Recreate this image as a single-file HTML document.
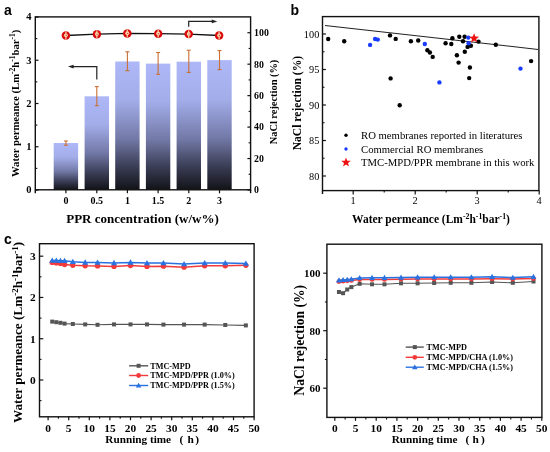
<!DOCTYPE html>
<html><head><meta charset="utf-8"><title>Figure</title>
<style>html,body{margin:0;padding:0;background:#fff;} svg{display:block;will-change:transform;}</style>
</head><body>
<svg width="550" height="452" viewBox="0 0 550 452">
<rect x="0" y="0" width="550" height="452" fill="#fff"/>
<defs><linearGradient id="bg" x1="0" y1="0" x2="0" y2="1"><stop offset="0" stop-color="#aeb8f8"/><stop offset="0.3" stop-color="#a3ade9"/><stop offset="0.6" stop-color="#737aa8"/><stop offset="0.82" stop-color="#3a3d55"/><stop offset="1" stop-color="#121318"/></linearGradient></defs>
<rect x="53.70" y="143.00" width="24.4" height="46.80" fill="url(#bg)"/>
<rect x="84.60" y="96.30" width="24.4" height="93.50" fill="url(#bg)"/>
<rect x="115.20" y="61.50" width="24.4" height="128.30" fill="url(#bg)"/>
<rect x="145.90" y="63.60" width="24.4" height="126.20" fill="url(#bg)"/>
<rect x="176.60" y="61.70" width="24.4" height="128.10" fill="url(#bg)"/>
<rect x="207.30" y="60.10" width="24.4" height="129.70" fill="url(#bg)"/>
<line x1="65.90" y1="141.00" x2="65.90" y2="145.20" stroke="#c87035" stroke-width="1.1" />
<line x1="63.90" y1="141.00" x2="67.90" y2="141.00" stroke="#c87035" stroke-width="1.1" />
<line x1="63.90" y1="145.20" x2="67.90" y2="145.20" stroke="#c87035" stroke-width="1.1" />
<line x1="96.80" y1="86.60" x2="96.80" y2="105.70" stroke="#c87035" stroke-width="1.1" />
<line x1="94.80" y1="86.60" x2="98.80" y2="86.60" stroke="#c87035" stroke-width="1.1" />
<line x1="94.80" y1="105.70" x2="98.80" y2="105.70" stroke="#c87035" stroke-width="1.1" />
<line x1="127.40" y1="51.80" x2="127.40" y2="70.70" stroke="#c87035" stroke-width="1.1" />
<line x1="125.40" y1="51.80" x2="129.40" y2="51.80" stroke="#c87035" stroke-width="1.1" />
<line x1="125.40" y1="70.70" x2="129.40" y2="70.70" stroke="#c87035" stroke-width="1.1" />
<line x1="158.10" y1="52.50" x2="158.10" y2="74.30" stroke="#c87035" stroke-width="1.1" />
<line x1="156.10" y1="52.50" x2="160.10" y2="52.50" stroke="#c87035" stroke-width="1.1" />
<line x1="156.10" y1="74.30" x2="160.10" y2="74.30" stroke="#c87035" stroke-width="1.1" />
<line x1="188.80" y1="50.20" x2="188.80" y2="72.40" stroke="#c87035" stroke-width="1.1" />
<line x1="186.80" y1="50.20" x2="190.80" y2="50.20" stroke="#c87035" stroke-width="1.1" />
<line x1="186.80" y1="72.40" x2="190.80" y2="72.40" stroke="#c87035" stroke-width="1.1" />
<line x1="219.50" y1="50.60" x2="219.50" y2="69.60" stroke="#c87035" stroke-width="1.1" />
<line x1="217.50" y1="50.60" x2="221.50" y2="50.60" stroke="#c87035" stroke-width="1.1" />
<line x1="217.50" y1="69.60" x2="221.50" y2="69.60" stroke="#c87035" stroke-width="1.1" />
<polyline points="65.9,35.5 96.9,34.2 127.3,33.4 158.2,33.7 188.7,34.1 219.1,35.5" fill="none" stroke="#111" stroke-width="1.3"/>
<circle cx="65.9" cy="35.5" r="4.25" fill="#d8080c"/>
<line x1="65.90" y1="31.60" x2="65.90" y2="39.40" stroke="#f2c89a" stroke-width="1.3" />
<ellipse cx="65.9" cy="35.3" rx="2.0" ry="1.9" fill="#f4d4a8"/>
<circle cx="66.2" cy="35.5" r="0.7" fill="#e45050"/>
<circle cx="96.9" cy="34.2" r="4.25" fill="#d8080c"/>
<line x1="96.90" y1="30.30" x2="96.90" y2="38.10" stroke="#f2c89a" stroke-width="1.3" />
<ellipse cx="96.9" cy="34.0" rx="2.0" ry="1.9" fill="#f4d4a8"/>
<circle cx="97.2" cy="34.2" r="0.7" fill="#e45050"/>
<circle cx="127.3" cy="33.4" r="4.25" fill="#d8080c"/>
<line x1="127.30" y1="29.50" x2="127.30" y2="37.30" stroke="#f2c89a" stroke-width="1.3" />
<ellipse cx="127.3" cy="33.199999999999996" rx="2.0" ry="1.9" fill="#f4d4a8"/>
<circle cx="127.6" cy="33.4" r="0.7" fill="#e45050"/>
<circle cx="158.2" cy="33.7" r="4.25" fill="#d8080c"/>
<line x1="158.20" y1="29.80" x2="158.20" y2="37.60" stroke="#f2c89a" stroke-width="1.3" />
<ellipse cx="158.2" cy="33.5" rx="2.0" ry="1.9" fill="#f4d4a8"/>
<circle cx="158.5" cy="33.7" r="0.7" fill="#e45050"/>
<circle cx="188.7" cy="34.1" r="4.25" fill="#d8080c"/>
<line x1="188.70" y1="30.20" x2="188.70" y2="38.00" stroke="#f2c89a" stroke-width="1.3" />
<ellipse cx="188.7" cy="33.9" rx="2.0" ry="1.9" fill="#f4d4a8"/>
<circle cx="189.0" cy="34.1" r="0.7" fill="#e45050"/>
<circle cx="219.1" cy="35.5" r="4.25" fill="#d8080c"/>
<line x1="219.10" y1="31.60" x2="219.10" y2="39.40" stroke="#f2c89a" stroke-width="1.3" />
<ellipse cx="219.1" cy="35.3" rx="2.0" ry="1.9" fill="#f4d4a8"/>
<circle cx="219.4" cy="35.5" r="0.7" fill="#e45050"/>
<polyline points="96.8,79.4 96.8,66.6 72.5,66.6" fill="none" stroke="#222" stroke-width="1.2"/>
<polygon points="68,66.6 73.6,64.8 73.6,68.4" fill="#222"/>
<polyline points="188.7,26.8 188.7,21.4 212.5,21.4" fill="none" stroke="#222" stroke-width="1.2"/>
<polygon points="217.3,21.4 211.7,19.6 211.7,23.2" fill="#222"/>
<rect x="35.3" y="16.9" width="215.30" height="172.90" fill="none" stroke="#111" stroke-width="1.4"/>
<line x1="35.30" y1="189.80" x2="35.30" y2="193.20" stroke="#111" stroke-width="1.4" />
<line x1="250.60" y1="189.80" x2="250.60" y2="193.20" stroke="#111" stroke-width="1.4" />
<line x1="35.30" y1="190.00" x2="38.50" y2="190.00" stroke="#111" stroke-width="1.2" />
<line x1="35.30" y1="146.75" x2="38.50" y2="146.75" stroke="#111" stroke-width="1.2" />
<line x1="35.30" y1="103.50" x2="38.50" y2="103.50" stroke="#111" stroke-width="1.2" />
<line x1="35.30" y1="60.25" x2="38.50" y2="60.25" stroke="#111" stroke-width="1.2" />
<line x1="35.30" y1="17.00" x2="38.50" y2="17.00" stroke="#111" stroke-width="1.2" />
<line x1="35.30" y1="168.38" x2="37.30" y2="168.38" stroke="#111" stroke-width="1.1" />
<line x1="35.30" y1="125.12" x2="37.30" y2="125.12" stroke="#111" stroke-width="1.1" />
<line x1="35.30" y1="81.88" x2="37.30" y2="81.88" stroke="#111" stroke-width="1.1" />
<line x1="35.30" y1="38.62" x2="37.30" y2="38.62" stroke="#111" stroke-width="1.1" />
<text x="31.40" y="193.30" font-family='"Liberation Serif", serif' font-size="10.5" font-weight="bold" text-anchor="end" fill="#000" >0</text>
<text x="31.40" y="150.05" font-family='"Liberation Serif", serif' font-size="10.5" font-weight="bold" text-anchor="end" fill="#000" >1</text>
<text x="31.40" y="106.80" font-family='"Liberation Serif", serif' font-size="10.5" font-weight="bold" text-anchor="end" fill="#000" >2</text>
<text x="31.40" y="63.55" font-family='"Liberation Serif", serif' font-size="10.5" font-weight="bold" text-anchor="end" fill="#000" >3</text>
<text x="31.40" y="20.30" font-family='"Liberation Serif", serif' font-size="10.5" font-weight="bold" text-anchor="end" fill="#000" >4</text>
<line x1="250.60" y1="190.00" x2="247.40" y2="190.00" stroke="#111" stroke-width="1.2" />
<line x1="250.60" y1="158.55" x2="247.40" y2="158.55" stroke="#111" stroke-width="1.2" />
<line x1="250.60" y1="127.09" x2="247.40" y2="127.09" stroke="#111" stroke-width="1.2" />
<line x1="250.60" y1="95.64" x2="247.40" y2="95.64" stroke="#111" stroke-width="1.2" />
<line x1="250.60" y1="64.18" x2="247.40" y2="64.18" stroke="#111" stroke-width="1.2" />
<line x1="250.60" y1="32.73" x2="247.40" y2="32.73" stroke="#111" stroke-width="1.2" />
<line x1="250.60" y1="174.27" x2="248.60" y2="174.27" stroke="#111" stroke-width="1.1" />
<line x1="250.60" y1="142.82" x2="248.60" y2="142.82" stroke="#111" stroke-width="1.1" />
<line x1="250.60" y1="111.36" x2="248.60" y2="111.36" stroke="#111" stroke-width="1.1" />
<line x1="250.60" y1="79.91" x2="248.60" y2="79.91" stroke="#111" stroke-width="1.1" />
<line x1="250.60" y1="48.46" x2="248.60" y2="48.46" stroke="#111" stroke-width="1.1" />
<text x="254.10" y="193.40" font-family='"Liberation Serif", serif' font-size="9.8" font-weight="bold" text-anchor="start" fill="#000" >0</text>
<text x="254.10" y="161.95" font-family='"Liberation Serif", serif' font-size="9.8" font-weight="bold" text-anchor="start" fill="#000" >20</text>
<text x="254.10" y="130.49" font-family='"Liberation Serif", serif' font-size="9.8" font-weight="bold" text-anchor="start" fill="#000" >40</text>
<text x="254.10" y="99.04" font-family='"Liberation Serif", serif' font-size="9.8" font-weight="bold" text-anchor="start" fill="#000" >60</text>
<text x="254.10" y="67.58" font-family='"Liberation Serif", serif' font-size="9.8" font-weight="bold" text-anchor="start" fill="#000" >80</text>
<text x="254.10" y="36.13" font-family='"Liberation Serif", serif' font-size="9.8" font-weight="bold" text-anchor="start" fill="#000" >100</text>
<line x1="65.90" y1="189.80" x2="65.90" y2="193.30" stroke="#111" stroke-width="1.2" />
<text x="65.90" y="203.60" font-family='"Liberation Serif", serif' font-size="10" font-weight="bold" text-anchor="middle" fill="#000" >0</text>
<line x1="96.80" y1="189.80" x2="96.80" y2="193.30" stroke="#111" stroke-width="1.2" />
<text x="96.80" y="203.60" font-family='"Liberation Serif", serif' font-size="10" font-weight="bold" text-anchor="middle" fill="#000" >0.5</text>
<line x1="127.40" y1="189.80" x2="127.40" y2="193.30" stroke="#111" stroke-width="1.2" />
<text x="127.40" y="203.60" font-family='"Liberation Serif", serif' font-size="10" font-weight="bold" text-anchor="middle" fill="#000" >1</text>
<line x1="158.10" y1="189.80" x2="158.10" y2="193.30" stroke="#111" stroke-width="1.2" />
<text x="158.10" y="203.60" font-family='"Liberation Serif", serif' font-size="10" font-weight="bold" text-anchor="middle" fill="#000" >1.5</text>
<line x1="188.80" y1="189.80" x2="188.80" y2="193.30" stroke="#111" stroke-width="1.2" />
<text x="188.80" y="203.60" font-family='"Liberation Serif", serif' font-size="10" font-weight="bold" text-anchor="middle" fill="#000" >2</text>
<line x1="219.50" y1="189.80" x2="219.50" y2="193.30" stroke="#111" stroke-width="1.2" />
<text x="219.50" y="203.60" font-family='"Liberation Serif", serif' font-size="10" font-weight="bold" text-anchor="middle" fill="#000" >3</text>
<text x="66.2" y="222.6" font-family='"Liberation Serif", serif' font-size="12.3" font-weight="bold" textLength="152.6" lengthAdjust="spacingAndGlyphs">PPR concentration (w/w%)</text>
<text transform="translate(18.6,103.3) rotate(-90)" font-family='"Liberation Serif", serif' font-size="10.7" font-weight="bold" text-anchor="middle">Water permeance (Lm<tspan dy="-3.5" font-size="7.5">-2</tspan><tspan dy="3.5">h</tspan><tspan dy="-3.5" font-size="7.5">-1</tspan><tspan dy="3.5">bar</tspan><tspan dy="-3.5" font-size="7.5">-1</tspan><tspan dy="3.5">)</tspan></text>
<text transform="translate(276.6,102.0) rotate(-90)" font-family='"Liberation Serif", serif' font-size="10.4" font-weight="bold" text-anchor="middle">NaCl rejection (%)</text>
<text x="3.90" y="14.70" font-family='"Liberation Sans", sans-serif' font-size="14" font-weight="bold" text-anchor="start" fill="#000" >a</text>
<rect x="322.5" y="16.6" width="216.40" height="174.00" fill="none" stroke="#111" stroke-width="1.4"/>
<line x1="322.50" y1="176.00" x2="325.90" y2="176.00" stroke="#111" stroke-width="1.2" />
<text x="319.30" y="179.60" font-family='"Liberation Serif", serif' font-size="10.3" font-weight="normal" text-anchor="end" fill="#000" >80</text>
<line x1="322.50" y1="140.50" x2="325.90" y2="140.50" stroke="#111" stroke-width="1.2" />
<text x="319.30" y="144.10" font-family='"Liberation Serif", serif' font-size="10.3" font-weight="normal" text-anchor="end" fill="#000" >85</text>
<line x1="322.50" y1="105.00" x2="325.90" y2="105.00" stroke="#111" stroke-width="1.2" />
<text x="319.30" y="108.60" font-family='"Liberation Serif", serif' font-size="10.3" font-weight="normal" text-anchor="end" fill="#000" >90</text>
<line x1="322.50" y1="69.50" x2="325.90" y2="69.50" stroke="#111" stroke-width="1.2" />
<text x="319.30" y="73.10" font-family='"Liberation Serif", serif' font-size="10.3" font-weight="normal" text-anchor="end" fill="#000" >95</text>
<line x1="322.50" y1="34.00" x2="325.90" y2="34.00" stroke="#111" stroke-width="1.2" />
<text x="319.30" y="37.60" font-family='"Liberation Serif", serif' font-size="10.3" font-weight="normal" text-anchor="end" fill="#000" >100</text>
<line x1="322.50" y1="158.25" x2="324.50" y2="158.25" stroke="#111" stroke-width="1.1" />
<line x1="322.50" y1="122.75" x2="324.50" y2="122.75" stroke="#111" stroke-width="1.1" />
<line x1="322.50" y1="87.25" x2="324.50" y2="87.25" stroke="#111" stroke-width="1.1" />
<line x1="322.50" y1="51.75" x2="324.50" y2="51.75" stroke="#111" stroke-width="1.1" />
<line x1="353.20" y1="190.60" x2="353.20" y2="194.40" stroke="#111" stroke-width="1.2" />
<text x="353.20" y="204.00" font-family='"Liberation Serif", serif' font-size="10.3" font-weight="normal" text-anchor="middle" fill="#000" >1</text>
<line x1="415.20" y1="190.60" x2="415.20" y2="194.40" stroke="#111" stroke-width="1.2" />
<text x="415.20" y="204.00" font-family='"Liberation Serif", serif' font-size="10.3" font-weight="normal" text-anchor="middle" fill="#000" >2</text>
<line x1="477.20" y1="190.60" x2="477.20" y2="194.40" stroke="#111" stroke-width="1.2" />
<text x="477.20" y="204.00" font-family='"Liberation Serif", serif' font-size="10.3" font-weight="normal" text-anchor="middle" fill="#000" >3</text>
<line x1="539.20" y1="190.60" x2="539.20" y2="194.40" stroke="#111" stroke-width="1.2" />
<text x="539.20" y="204.00" font-family='"Liberation Serif", serif' font-size="10.3" font-weight="normal" text-anchor="middle" fill="#000" >4</text>
<line x1="384.20" y1="190.60" x2="384.20" y2="192.60" stroke="#111" stroke-width="1.1" />
<line x1="446.20" y1="190.60" x2="446.20" y2="192.60" stroke="#111" stroke-width="1.1" />
<line x1="508.20" y1="190.60" x2="508.20" y2="192.60" stroke="#111" stroke-width="1.1" />
<line x1="322.50" y1="190.60" x2="322.50" y2="194.00" stroke="#111" stroke-width="1.4" />
<line x1="325.00" y1="25.40" x2="538.20" y2="49.50" stroke="#222" stroke-width="1.05" />
<circle cx="328.2" cy="39.0" r="2.2" fill="#000"/>
<circle cx="344.2" cy="41.2" r="2.2" fill="#000"/>
<circle cx="390.0" cy="35.4" r="2.2" fill="#000"/>
<circle cx="395.7" cy="38.9" r="2.2" fill="#000"/>
<circle cx="410.9" cy="41.2" r="2.2" fill="#000"/>
<circle cx="418.2" cy="40.5" r="2.2" fill="#000"/>
<circle cx="427.4" cy="50.2" r="2.2" fill="#000"/>
<circle cx="429.9" cy="52.5" r="2.2" fill="#000"/>
<circle cx="432.7" cy="56.9" r="2.2" fill="#000"/>
<circle cx="390.6" cy="78.4" r="2.2" fill="#000"/>
<circle cx="399.7" cy="105.2" r="2.2" fill="#000"/>
<circle cx="445.6" cy="43.3" r="2.2" fill="#000"/>
<circle cx="451.3" cy="44.0" r="2.2" fill="#000"/>
<circle cx="452.4" cy="38.3" r="2.2" fill="#000"/>
<circle cx="459.3" cy="36.7" r="2.2" fill="#000"/>
<circle cx="464.6" cy="36.7" r="2.2" fill="#000"/>
<circle cx="463.0" cy="41.2" r="2.2" fill="#000"/>
<circle cx="467.6" cy="46.9" r="2.2" fill="#000"/>
<circle cx="470.9" cy="45.8" r="2.2" fill="#000"/>
<circle cx="478.5" cy="41.6" r="2.2" fill="#000"/>
<circle cx="495.8" cy="44.7" r="2.2" fill="#000"/>
<circle cx="464.8" cy="51.8" r="2.2" fill="#000"/>
<circle cx="456.9" cy="55.3" r="2.2" fill="#000"/>
<circle cx="458.6" cy="62.6" r="2.2" fill="#000"/>
<circle cx="469.9" cy="67.5" r="2.2" fill="#000"/>
<circle cx="469.2" cy="78.1" r="2.2" fill="#000"/>
<circle cx="531.1" cy="61.1" r="2.2" fill="#000"/>
<circle cx="370.1" cy="44.9" r="2.2" fill="#1a3cff"/>
<circle cx="375.1" cy="39.0" r="2.2" fill="#1a3cff"/>
<circle cx="377.8" cy="39.6" r="2.2" fill="#1a3cff"/>
<circle cx="424.8" cy="44.0" r="2.2" fill="#1a3cff"/>
<circle cx="439.4" cy="82.4" r="2.2" fill="#1a3cff"/>
<circle cx="468.3" cy="37.6" r="2.2" fill="#1a3cff"/>
<circle cx="468.6" cy="43.2" r="2.2" fill="#1a3cff"/>
<circle cx="520.5" cy="68.6" r="2.2" fill="#1a3cff"/>
<polygon points="474.10,33.20 475.39,36.62 479.05,36.79 476.19,39.08 477.16,42.61 474.10,40.60 471.04,42.61 472.01,39.08 469.15,36.79 472.81,36.62" fill="#f01010"/>
<circle cx="346" cy="135.2" r="1.7" fill="#000"/>
<circle cx="346" cy="149" r="1.7" fill="#1a3cff"/>
<polygon points="346.00,157.40 347.23,160.70 350.76,160.85 348.00,163.05 348.94,166.45 346.00,164.50 343.06,166.45 344.00,163.05 341.24,160.85 344.77,160.70" fill="#f01010"/>
<text x="361.00" y="139.40" font-family='"Liberation Serif", serif' font-size="10.7" font-weight="normal" text-anchor="start" fill="#000" >RO membranes reported in literatures</text>
<text x="361.00" y="152.80" font-family='"Liberation Serif", serif' font-size="10.7" font-weight="normal" text-anchor="start" fill="#000" >Commercial RO membranes</text>
<text x="361.00" y="166.20" font-family='"Liberation Serif", serif' font-size="10.7" font-weight="normal" text-anchor="start" fill="#000" >TMC-MPD/PPR membrane in this work</text>
<text transform="translate(301.4,103.1) rotate(-90)" font-family='"Liberation Serif", serif' font-size="11.6" font-weight="bold" text-anchor="middle">NaCl rejection (%)</text>
<text x="431" y="222.5" font-family='"Liberation Serif", serif' font-size="11.5" font-weight="bold" text-anchor="middle">Water permeance (Lm<tspan dy="-3.5" font-size="7.8">-2</tspan><tspan dy="3.5">h</tspan><tspan dy="-3.5" font-size="7.8">-1</tspan><tspan dy="3.5">bar</tspan><tspan dy="-3.5" font-size="7.8">-1</tspan><tspan dy="3.5">)</tspan></text>
<text x="290.60" y="14.70" font-family='"Liberation Sans", sans-serif' font-size="14" font-weight="bold" text-anchor="start" fill="#000" >b</text>
<rect x="39.5" y="243.7" width="214.60" height="173.10" fill="none" stroke="#111" stroke-width="1.4"/>
<line x1="39.50" y1="380.00" x2="43.30" y2="380.00" stroke="#111" stroke-width="1.2" />
<text x="35.80" y="384.00" font-family='"Liberation Serif", serif' font-size="11.4" font-weight="bold" text-anchor="end" fill="#000" >0</text>
<line x1="39.50" y1="338.73" x2="43.30" y2="338.73" stroke="#111" stroke-width="1.2" />
<text x="35.80" y="342.73" font-family='"Liberation Serif", serif' font-size="11.4" font-weight="bold" text-anchor="end" fill="#000" >1</text>
<line x1="39.50" y1="297.46" x2="43.30" y2="297.46" stroke="#111" stroke-width="1.2" />
<text x="35.80" y="301.46" font-family='"Liberation Serif", serif' font-size="11.4" font-weight="bold" text-anchor="end" fill="#000" >2</text>
<line x1="39.50" y1="256.19" x2="43.30" y2="256.19" stroke="#111" stroke-width="1.2" />
<text x="35.80" y="260.19" font-family='"Liberation Serif", serif' font-size="11.4" font-weight="bold" text-anchor="end" fill="#000" >3</text>
<line x1="39.50" y1="400.63" x2="41.50" y2="400.63" stroke="#111" stroke-width="1.1" />
<line x1="39.50" y1="359.37" x2="41.50" y2="359.37" stroke="#111" stroke-width="1.1" />
<line x1="39.50" y1="318.10" x2="41.50" y2="318.10" stroke="#111" stroke-width="1.1" />
<line x1="39.50" y1="276.82" x2="41.50" y2="276.82" stroke="#111" stroke-width="1.1" />
<line x1="48.10" y1="416.80" x2="48.10" y2="420.20" stroke="#111" stroke-width="1.2" />
<text x="48.10" y="432.10" font-family='"Liberation Serif", serif' font-size="11.4" font-weight="bold" text-anchor="middle" fill="#000" >0</text>
<line x1="68.70" y1="416.80" x2="68.70" y2="420.20" stroke="#111" stroke-width="1.2" />
<text x="68.70" y="432.10" font-family='"Liberation Serif", serif' font-size="11.4" font-weight="bold" text-anchor="middle" fill="#000" >5</text>
<line x1="89.30" y1="416.80" x2="89.30" y2="420.20" stroke="#111" stroke-width="1.2" />
<text x="89.30" y="432.10" font-family='"Liberation Serif", serif' font-size="11.4" font-weight="bold" text-anchor="middle" fill="#000" >10</text>
<line x1="109.90" y1="416.80" x2="109.90" y2="420.20" stroke="#111" stroke-width="1.2" />
<text x="109.90" y="432.10" font-family='"Liberation Serif", serif' font-size="11.4" font-weight="bold" text-anchor="middle" fill="#000" >15</text>
<line x1="130.50" y1="416.80" x2="130.50" y2="420.20" stroke="#111" stroke-width="1.2" />
<text x="130.50" y="432.10" font-family='"Liberation Serif", serif' font-size="11.4" font-weight="bold" text-anchor="middle" fill="#000" >20</text>
<line x1="151.10" y1="416.80" x2="151.10" y2="420.20" stroke="#111" stroke-width="1.2" />
<text x="151.10" y="432.10" font-family='"Liberation Serif", serif' font-size="11.4" font-weight="bold" text-anchor="middle" fill="#000" >25</text>
<line x1="171.70" y1="416.80" x2="171.70" y2="420.20" stroke="#111" stroke-width="1.2" />
<text x="171.70" y="432.10" font-family='"Liberation Serif", serif' font-size="11.4" font-weight="bold" text-anchor="middle" fill="#000" >30</text>
<line x1="192.30" y1="416.80" x2="192.30" y2="420.20" stroke="#111" stroke-width="1.2" />
<text x="192.30" y="432.10" font-family='"Liberation Serif", serif' font-size="11.4" font-weight="bold" text-anchor="middle" fill="#000" >35</text>
<line x1="212.90" y1="416.80" x2="212.90" y2="420.20" stroke="#111" stroke-width="1.2" />
<text x="212.90" y="432.10" font-family='"Liberation Serif", serif' font-size="11.4" font-weight="bold" text-anchor="middle" fill="#000" >40</text>
<line x1="233.50" y1="416.80" x2="233.50" y2="420.20" stroke="#111" stroke-width="1.2" />
<text x="233.50" y="432.10" font-family='"Liberation Serif", serif' font-size="11.4" font-weight="bold" text-anchor="middle" fill="#000" >45</text>
<line x1="254.10" y1="416.80" x2="254.10" y2="420.20" stroke="#111" stroke-width="1.2" />
<text x="254.10" y="432.10" font-family='"Liberation Serif", serif' font-size="11.4" font-weight="bold" text-anchor="middle" fill="#000" >50</text>
<line x1="58.40" y1="416.80" x2="58.40" y2="418.80" stroke="#111" stroke-width="1.1" />
<line x1="79.00" y1="416.80" x2="79.00" y2="418.80" stroke="#111" stroke-width="1.1" />
<line x1="99.60" y1="416.80" x2="99.60" y2="418.80" stroke="#111" stroke-width="1.1" />
<line x1="120.20" y1="416.80" x2="120.20" y2="418.80" stroke="#111" stroke-width="1.1" />
<line x1="140.80" y1="416.80" x2="140.80" y2="418.80" stroke="#111" stroke-width="1.1" />
<line x1="161.40" y1="416.80" x2="161.40" y2="418.80" stroke="#111" stroke-width="1.1" />
<line x1="182.00" y1="416.80" x2="182.00" y2="418.80" stroke="#111" stroke-width="1.1" />
<line x1="202.60" y1="416.80" x2="202.60" y2="418.80" stroke="#111" stroke-width="1.1" />
<line x1="223.20" y1="416.80" x2="223.20" y2="418.80" stroke="#111" stroke-width="1.1" />
<line x1="243.80" y1="416.80" x2="243.80" y2="418.80" stroke="#111" stroke-width="1.1" />
<polyline points="52.22,321.60 56.34,322.20 60.46,322.80 64.58,323.60 72.82,324.00 85.18,324.40 97.54,324.80 114.02,324.40 130.50,324.40 146.98,324.40 163.46,324.60 184.06,324.60 204.66,324.60 225.26,325.00 245.86,325.40" fill="none" stroke="#555" stroke-width="1.1"/>
<rect x="50.22" y="319.60" width="4.0" height="4.0" fill="#555"/>
<rect x="54.34" y="320.20" width="4.0" height="4.0" fill="#555"/>
<rect x="58.46" y="320.80" width="4.0" height="4.0" fill="#555"/>
<rect x="62.58" y="321.60" width="4.0" height="4.0" fill="#555"/>
<rect x="70.82" y="322.00" width="4.0" height="4.0" fill="#555"/>
<rect x="83.18" y="322.40" width="4.0" height="4.0" fill="#555"/>
<rect x="95.54" y="322.80" width="4.0" height="4.0" fill="#555"/>
<rect x="112.02" y="322.40" width="4.0" height="4.0" fill="#555"/>
<rect x="128.50" y="322.40" width="4.0" height="4.0" fill="#555"/>
<rect x="144.98" y="322.40" width="4.0" height="4.0" fill="#555"/>
<rect x="161.46" y="322.60" width="4.0" height="4.0" fill="#555"/>
<rect x="182.06" y="322.60" width="4.0" height="4.0" fill="#555"/>
<rect x="202.66" y="322.60" width="4.0" height="4.0" fill="#555"/>
<rect x="223.26" y="323.00" width="4.0" height="4.0" fill="#555"/>
<rect x="243.86" y="323.40" width="4.0" height="4.0" fill="#555"/>
<polyline points="52.22,262.50 56.34,263.00 60.46,263.50 64.58,264.60 72.82,265.30 85.18,265.80 97.54,266.00 114.02,266.40 130.50,265.60 146.98,266.40 163.46,266.20 184.06,267.20 204.66,265.80 225.26,265.80 245.86,265.30" fill="none" stroke="#f23a3a" stroke-width="1.5"/>
<circle cx="52.22" cy="262.50" r="2.6" fill="#f23a3a"/>
<circle cx="56.34" cy="263.00" r="2.6" fill="#f23a3a"/>
<circle cx="60.46" cy="263.50" r="2.6" fill="#f23a3a"/>
<circle cx="64.58" cy="264.60" r="2.6" fill="#f23a3a"/>
<circle cx="72.82" cy="265.30" r="2.6" fill="#f23a3a"/>
<circle cx="85.18" cy="265.80" r="2.6" fill="#f23a3a"/>
<circle cx="97.54" cy="266.00" r="2.6" fill="#f23a3a"/>
<circle cx="114.02" cy="266.40" r="2.6" fill="#f23a3a"/>
<circle cx="130.50" cy="265.60" r="2.6" fill="#f23a3a"/>
<circle cx="146.98" cy="266.40" r="2.6" fill="#f23a3a"/>
<circle cx="163.46" cy="266.20" r="2.6" fill="#f23a3a"/>
<circle cx="184.06" cy="267.20" r="2.6" fill="#f23a3a"/>
<circle cx="204.66" cy="265.80" r="2.6" fill="#f23a3a"/>
<circle cx="225.26" cy="265.80" r="2.6" fill="#f23a3a"/>
<circle cx="245.86" cy="265.30" r="2.6" fill="#f23a3a"/>
<polyline points="52.22,260.60 56.34,260.60 60.46,260.70 64.58,260.80 72.82,261.70 85.18,262.40 97.54,262.60 114.02,262.90 130.50,262.40 146.98,263.00 163.46,263.00 184.06,264.00 204.66,263.00 225.26,263.00 245.86,263.60" fill="none" stroke="#2a72e0" stroke-width="1.5"/>
<polygon points="52.22,257.55 55.27,262.85 49.17,262.85" fill="#2a72e0"/>
<polygon points="56.34,257.55 59.39,262.85 53.29,262.85" fill="#2a72e0"/>
<polygon points="60.46,257.65 63.51,262.95 57.41,262.95" fill="#2a72e0"/>
<polygon points="64.58,257.75 67.63,263.05 61.53,263.05" fill="#2a72e0"/>
<polygon points="72.82,258.65 75.87,263.95 69.77,263.95" fill="#2a72e0"/>
<polygon points="85.18,259.35 88.23,264.65 82.13,264.65" fill="#2a72e0"/>
<polygon points="97.54,259.55 100.59,264.85 94.49,264.85" fill="#2a72e0"/>
<polygon points="114.02,259.85 117.07,265.15 110.97,265.15" fill="#2a72e0"/>
<polygon points="130.50,259.35 133.55,264.65 127.45,264.65" fill="#2a72e0"/>
<polygon points="146.98,259.95 150.03,265.25 143.93,265.25" fill="#2a72e0"/>
<polygon points="163.46,259.95 166.51,265.25 160.41,265.25" fill="#2a72e0"/>
<polygon points="184.06,260.95 187.11,266.25 181.01,266.25" fill="#2a72e0"/>
<polygon points="204.66,259.95 207.71,265.25 201.61,265.25" fill="#2a72e0"/>
<polygon points="225.26,259.95 228.31,265.25 222.21,265.25" fill="#2a72e0"/>
<polygon points="245.86,260.55 248.91,265.85 242.81,265.85" fill="#2a72e0"/>
<line x1="129.10" y1="365.80" x2="148.20" y2="365.80" stroke="#555" stroke-width="1.4" />
<rect x="136.60" y="363.80" width="4" height="4" fill="#555"/>
<line x1="129.10" y1="375.50" x2="148.20" y2="375.50" stroke="#f23a3a" stroke-width="1.4" />
<circle cx="138.6" cy="375.5" r="2.4" fill="#f23a3a"/>
<line x1="129.10" y1="385.50" x2="148.20" y2="385.50" stroke="#2a72e0" stroke-width="1.4" />
<polygon points="138.6,382.70 141.4,387.50 135.8,387.50" fill="#2a72e0"/>
<text x="150.20" y="368.60" font-family='"Liberation Serif", serif' font-size="8.2" font-weight="bold" text-anchor="start" fill="#000" >TMC-MPD</text>
<text x="150.20" y="378.40" font-family='"Liberation Serif", serif' font-size="8.2" font-weight="bold" text-anchor="start" fill="#000" >TMC-MPD/PPR (1.0%)</text>
<text x="150.20" y="388.40" font-family='"Liberation Serif", serif' font-size="8.2" font-weight="bold" text-anchor="start" fill="#000" >TMC-MPD/PPR (1.5%)</text>
<text transform="translate(22.0,332.4) rotate(-90)" font-family='"Liberation Serif", serif' font-size="13.2" font-weight="bold" text-anchor="middle">Water permeance (Lm<tspan dy="-4.5" font-size="9">-2</tspan><tspan dy="4.5">h</tspan><tspan dy="-4.5" font-size="9">-1</tspan><tspan dy="4.5">bar</tspan><tspan dy="-4.5" font-size="9">-1</tspan><tspan dy="4.5">)</tspan></text>
<text x="105.3" y="443.2" font-family='"Liberation Serif", serif' font-size="11.4" font-weight="bold" textLength="65.8" lengthAdjust="spacingAndGlyphs">Running time</text>
<text x="179.6" y="443.2" font-family='"Liberation Serif", serif' font-size="11.4" font-weight="bold">(</text>
<text x="187.6" y="443.2" font-family='"Liberation Serif", serif' font-size="11.4" font-weight="bold">h</text>
<text x="195.2" y="443.2" font-family='"Liberation Serif", serif' font-size="11.4" font-weight="bold">)</text>
<text x="3.90" y="244.40" font-family='"Liberation Sans", sans-serif' font-size="14" font-weight="bold" text-anchor="start" fill="#000" >c</text>
<rect x="326.9" y="244.2" width="215.00" height="173.20" fill="none" stroke="#111" stroke-width="1.4"/>
<line x1="326.90" y1="388.20" x2="323.20" y2="388.20" stroke="#111" stroke-width="1.2" />
<text x="320.40" y="392.10" font-family='"Liberation Serif", serif' font-size="11.0" font-weight="bold" text-anchor="end" fill="#000" >60</text>
<line x1="326.90" y1="330.70" x2="323.20" y2="330.70" stroke="#111" stroke-width="1.2" />
<text x="320.40" y="334.60" font-family='"Liberation Serif", serif' font-size="11.0" font-weight="bold" text-anchor="end" fill="#000" >80</text>
<line x1="326.90" y1="273.20" x2="323.20" y2="273.20" stroke="#111" stroke-width="1.2" />
<text x="320.40" y="277.10" font-family='"Liberation Serif", serif' font-size="11.0" font-weight="bold" text-anchor="end" fill="#000" >100</text>
<line x1="326.90" y1="359.45" x2="324.90" y2="359.45" stroke="#111" stroke-width="1.1" />
<line x1="326.90" y1="301.95" x2="324.90" y2="301.95" stroke="#111" stroke-width="1.1" />
<line x1="334.80" y1="417.40" x2="334.80" y2="420.80" stroke="#111" stroke-width="1.2" />
<text x="334.80" y="432.10" font-family='"Liberation Serif", serif' font-size="11.4" font-weight="bold" text-anchor="middle" fill="#000" >0</text>
<line x1="355.50" y1="417.40" x2="355.50" y2="420.80" stroke="#111" stroke-width="1.2" />
<text x="355.50" y="432.10" font-family='"Liberation Serif", serif' font-size="11.4" font-weight="bold" text-anchor="middle" fill="#000" >5</text>
<line x1="376.20" y1="417.40" x2="376.20" y2="420.80" stroke="#111" stroke-width="1.2" />
<text x="376.20" y="432.10" font-family='"Liberation Serif", serif' font-size="11.4" font-weight="bold" text-anchor="middle" fill="#000" >10</text>
<line x1="396.90" y1="417.40" x2="396.90" y2="420.80" stroke="#111" stroke-width="1.2" />
<text x="396.90" y="432.10" font-family='"Liberation Serif", serif' font-size="11.4" font-weight="bold" text-anchor="middle" fill="#000" >15</text>
<line x1="417.60" y1="417.40" x2="417.60" y2="420.80" stroke="#111" stroke-width="1.2" />
<text x="417.60" y="432.10" font-family='"Liberation Serif", serif' font-size="11.4" font-weight="bold" text-anchor="middle" fill="#000" >20</text>
<line x1="438.30" y1="417.40" x2="438.30" y2="420.80" stroke="#111" stroke-width="1.2" />
<text x="438.30" y="432.10" font-family='"Liberation Serif", serif' font-size="11.4" font-weight="bold" text-anchor="middle" fill="#000" >25</text>
<line x1="459.00" y1="417.40" x2="459.00" y2="420.80" stroke="#111" stroke-width="1.2" />
<text x="459.00" y="432.10" font-family='"Liberation Serif", serif' font-size="11.4" font-weight="bold" text-anchor="middle" fill="#000" >30</text>
<line x1="479.70" y1="417.40" x2="479.70" y2="420.80" stroke="#111" stroke-width="1.2" />
<text x="479.70" y="432.10" font-family='"Liberation Serif", serif' font-size="11.4" font-weight="bold" text-anchor="middle" fill="#000" >35</text>
<line x1="500.40" y1="417.40" x2="500.40" y2="420.80" stroke="#111" stroke-width="1.2" />
<text x="500.40" y="432.10" font-family='"Liberation Serif", serif' font-size="11.4" font-weight="bold" text-anchor="middle" fill="#000" >40</text>
<line x1="521.10" y1="417.40" x2="521.10" y2="420.80" stroke="#111" stroke-width="1.2" />
<text x="521.10" y="432.10" font-family='"Liberation Serif", serif' font-size="11.4" font-weight="bold" text-anchor="middle" fill="#000" >45</text>
<line x1="541.80" y1="417.40" x2="541.80" y2="420.80" stroke="#111" stroke-width="1.2" />
<text x="541.80" y="432.10" font-family='"Liberation Serif", serif' font-size="11.4" font-weight="bold" text-anchor="middle" fill="#000" >50</text>
<line x1="345.15" y1="417.40" x2="345.15" y2="419.40" stroke="#111" stroke-width="1.1" />
<line x1="365.85" y1="417.40" x2="365.85" y2="419.40" stroke="#111" stroke-width="1.1" />
<line x1="386.55" y1="417.40" x2="386.55" y2="419.40" stroke="#111" stroke-width="1.1" />
<line x1="407.25" y1="417.40" x2="407.25" y2="419.40" stroke="#111" stroke-width="1.1" />
<line x1="427.95" y1="417.40" x2="427.95" y2="419.40" stroke="#111" stroke-width="1.1" />
<line x1="448.65" y1="417.40" x2="448.65" y2="419.40" stroke="#111" stroke-width="1.1" />
<line x1="469.35" y1="417.40" x2="469.35" y2="419.40" stroke="#111" stroke-width="1.1" />
<line x1="490.05" y1="417.40" x2="490.05" y2="419.40" stroke="#111" stroke-width="1.1" />
<line x1="510.75" y1="417.40" x2="510.75" y2="419.40" stroke="#111" stroke-width="1.1" />
<line x1="531.45" y1="417.40" x2="531.45" y2="419.40" stroke="#111" stroke-width="1.1" />
<polyline points="338.94,292.00 343.08,293.20 347.22,289.50 351.36,287.10 359.64,283.80 372.06,284.30 384.48,284.30 401.04,283.30 417.60,283.30 434.16,283.00 450.72,282.80 471.42,282.80 492.12,282.00 512.82,282.80 533.52,281.50" fill="none" stroke="#555" stroke-width="1.1"/>
<rect x="336.94" y="290.00" width="4.0" height="4.0" fill="#555"/>
<rect x="341.08" y="291.20" width="4.0" height="4.0" fill="#555"/>
<rect x="345.22" y="287.50" width="4.0" height="4.0" fill="#555"/>
<rect x="349.36" y="285.10" width="4.0" height="4.0" fill="#555"/>
<rect x="357.64" y="281.80" width="4.0" height="4.0" fill="#555"/>
<rect x="370.06" y="282.30" width="4.0" height="4.0" fill="#555"/>
<rect x="382.48" y="282.30" width="4.0" height="4.0" fill="#555"/>
<rect x="399.04" y="281.30" width="4.0" height="4.0" fill="#555"/>
<rect x="415.60" y="281.30" width="4.0" height="4.0" fill="#555"/>
<rect x="432.16" y="281.00" width="4.0" height="4.0" fill="#555"/>
<rect x="448.72" y="280.80" width="4.0" height="4.0" fill="#555"/>
<rect x="469.42" y="280.80" width="4.0" height="4.0" fill="#555"/>
<rect x="490.12" y="280.00" width="4.0" height="4.0" fill="#555"/>
<rect x="510.82" y="280.80" width="4.0" height="4.0" fill="#555"/>
<rect x="531.52" y="279.50" width="4.0" height="4.0" fill="#555"/>
<polyline points="338.94,281.60 343.08,281.20 347.22,280.80 351.36,280.40 359.64,279.60 372.06,279.40 384.48,279.40 401.04,279.20 417.60,279.00 434.16,279.00 450.72,279.00 471.42,279.00 492.12,278.80 512.82,279.00 533.52,278.60" fill="none" stroke="#f23a3a" stroke-width="1.5"/>
<circle cx="338.94" cy="281.60" r="2.4" fill="#f23a3a"/>
<circle cx="343.08" cy="281.20" r="2.4" fill="#f23a3a"/>
<circle cx="347.22" cy="280.80" r="2.4" fill="#f23a3a"/>
<circle cx="351.36" cy="280.40" r="2.4" fill="#f23a3a"/>
<circle cx="359.64" cy="279.60" r="2.4" fill="#f23a3a"/>
<circle cx="372.06" cy="279.40" r="2.4" fill="#f23a3a"/>
<circle cx="384.48" cy="279.40" r="2.4" fill="#f23a3a"/>
<circle cx="401.04" cy="279.20" r="2.4" fill="#f23a3a"/>
<circle cx="417.60" cy="279.00" r="2.4" fill="#f23a3a"/>
<circle cx="434.16" cy="279.00" r="2.4" fill="#f23a3a"/>
<circle cx="450.72" cy="279.00" r="2.4" fill="#f23a3a"/>
<circle cx="471.42" cy="279.00" r="2.4" fill="#f23a3a"/>
<circle cx="492.12" cy="278.80" r="2.4" fill="#f23a3a"/>
<circle cx="512.82" cy="279.00" r="2.4" fill="#f23a3a"/>
<circle cx="533.52" cy="278.60" r="2.4" fill="#f23a3a"/>
<polyline points="338.94,280.30 343.08,279.90 347.22,279.60 351.36,279.20 359.64,277.90 372.06,277.80 384.48,277.80 401.04,277.50 417.60,277.30 434.16,277.20 450.72,277.20 471.42,277.20 492.12,276.80 512.82,277.60 533.52,276.80" fill="none" stroke="#2a72e0" stroke-width="1.5"/>
<polygon points="338.94,277.37 341.87,282.47 336.01,282.47" fill="#2a72e0"/>
<polygon points="343.08,276.97 346.01,282.07 340.15,282.07" fill="#2a72e0"/>
<polygon points="347.22,276.67 350.15,281.77 344.29,281.77" fill="#2a72e0"/>
<polygon points="351.36,276.27 354.29,281.37 348.43,281.37" fill="#2a72e0"/>
<polygon points="359.64,274.97 362.57,280.07 356.71,280.07" fill="#2a72e0"/>
<polygon points="372.06,274.87 374.99,279.97 369.13,279.97" fill="#2a72e0"/>
<polygon points="384.48,274.87 387.41,279.97 381.55,279.97" fill="#2a72e0"/>
<polygon points="401.04,274.57 403.97,279.67 398.11,279.67" fill="#2a72e0"/>
<polygon points="417.60,274.37 420.53,279.47 414.67,279.47" fill="#2a72e0"/>
<polygon points="434.16,274.27 437.09,279.37 431.23,279.37" fill="#2a72e0"/>
<polygon points="450.72,274.27 453.65,279.37 447.79,279.37" fill="#2a72e0"/>
<polygon points="471.42,274.27 474.35,279.37 468.49,279.37" fill="#2a72e0"/>
<polygon points="492.12,273.87 495.05,278.97 489.19,278.97" fill="#2a72e0"/>
<polygon points="512.82,274.67 515.75,279.77 509.89,279.77" fill="#2a72e0"/>
<polygon points="533.52,273.87 536.45,278.97 530.59,278.97" fill="#2a72e0"/>
<line x1="405.70" y1="347.10" x2="423.80" y2="347.10" stroke="#555" stroke-width="1.4" />
<rect x="412.80" y="345.10" width="4" height="4" fill="#555"/>
<line x1="405.70" y1="357.30" x2="423.80" y2="357.30" stroke="#f23a3a" stroke-width="1.4" />
<circle cx="414.8" cy="357.3" r="2.4" fill="#f23a3a"/>
<line x1="405.70" y1="367.20" x2="423.80" y2="367.20" stroke="#2a72e0" stroke-width="1.4" />
<polygon points="414.8,364.40 417.6,369.20 412.0,369.20" fill="#2a72e0"/>
<text x="426.50" y="349.90" font-family='"Liberation Serif", serif' font-size="8.2" font-weight="bold" text-anchor="start" fill="#000" >TMC-MPD</text>
<text x="426.50" y="360.10" font-family='"Liberation Serif", serif' font-size="8.2" font-weight="bold" text-anchor="start" fill="#000" >TMC-MPD/CHA (1.0%)</text>
<text x="426.50" y="370.00" font-family='"Liberation Serif", serif' font-size="8.2" font-weight="bold" text-anchor="start" fill="#000" >TMC-MPD/CHA (1.5%)</text>
<text transform="translate(303.9,340.3) rotate(-90)" font-family='"Liberation Serif", serif' font-size="13.6" font-weight="bold" text-anchor="middle">NaCl rejection (%)</text>
<text x="391.7" y="443.2" font-family='"Liberation Serif", serif' font-size="11.4" font-weight="bold" textLength="65.8" lengthAdjust="spacingAndGlyphs">Running time</text>
<text x="465.6" y="443.2" font-family='"Liberation Serif", serif' font-size="11.4" font-weight="bold">(</text>
<text x="472.6" y="443.2" font-family='"Liberation Serif", serif' font-size="11.4" font-weight="bold">h</text>
<text x="481.0" y="443.2" font-family='"Liberation Serif", serif' font-size="11.4" font-weight="bold">)</text>
</svg>
</body></html>
